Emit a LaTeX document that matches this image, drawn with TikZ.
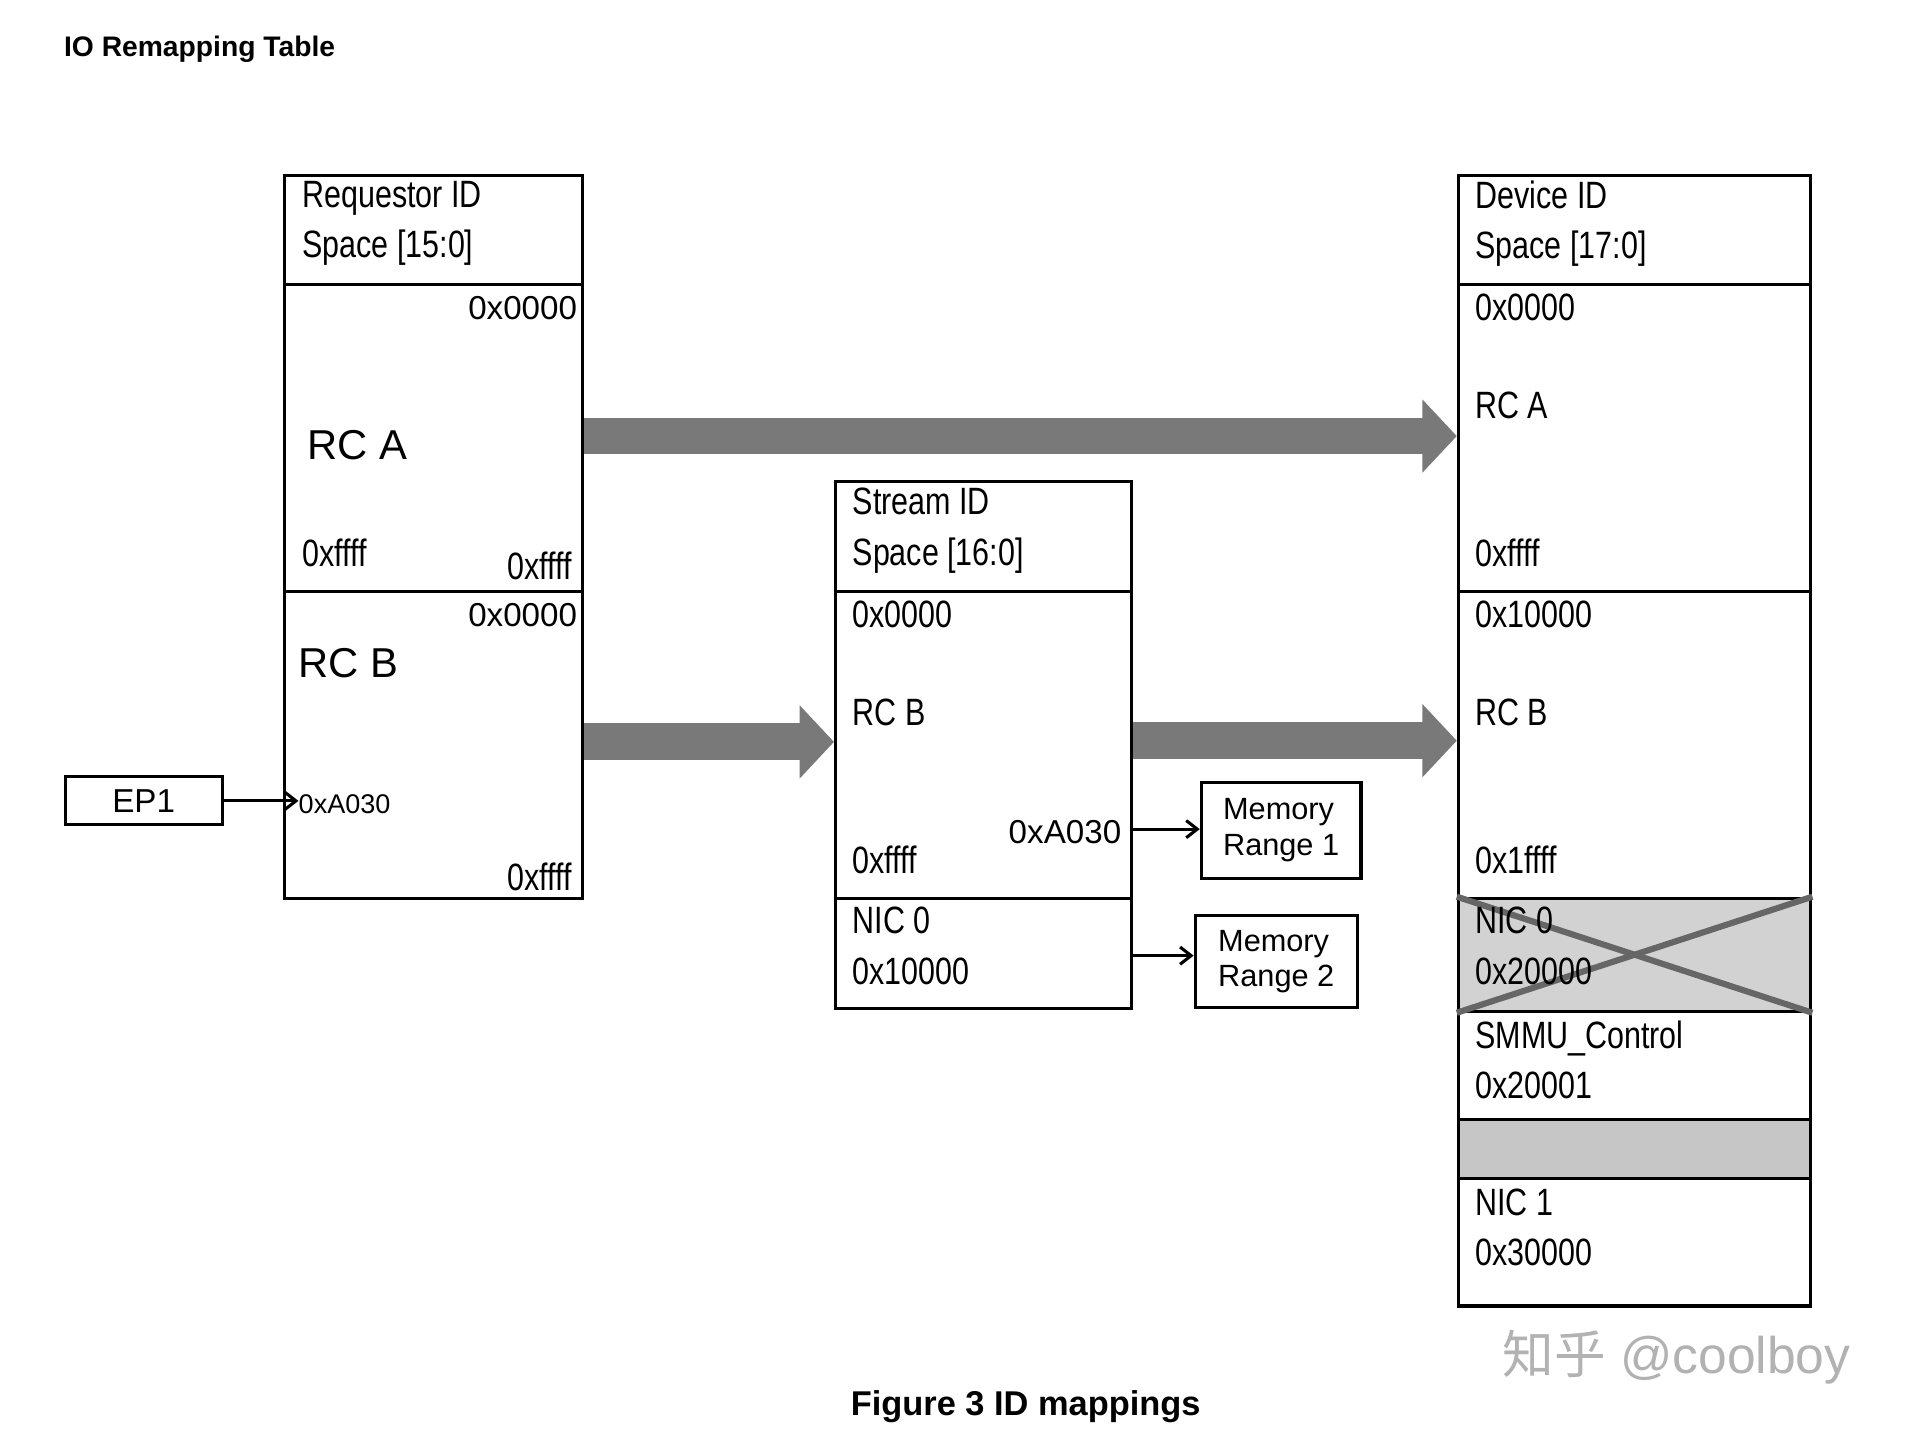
\documentclass[tikz,border=0pt]{standalone}
\usepackage{fontspec}
\setmainfont{Liberation Sans}
\newfontfamily\narrowf{Liberation Sans}[FakeStretch=0.8]
\newfontfamily\cjk{Noto Sans CJK SC}
\usetikzlibrary{arrows.meta}
\tikzset{
  cell/.style={draw,line width=2.5pt,anchor=north west,inner sep=0pt},
  lbl/.style={font=\fontsize{31}{41}\selectfont\narrowf,anchor=west,inner sep=0pt,align=left},
  lbr/.style={lbl,anchor=east},
  txt/.style={font=\fontsize{27}{33}\selectfont,anchor=west,inner sep=0pt,align=left},
  big/.style={line width=30pt,draw=gray!95!black,-{Triangle[length=28pt,width=58pt]}},
  small/.style={line width=2.5pt,-{Straight Barb[length=9pt,width=14pt]}}
}
\begin{document}
\begin{tikzpicture}[x=1pt,y=-1pt]
\useasboundingbox (0,0) rectangle (1568,1176);
% titles
\node[anchor=west,inner sep=0pt,font=\fontsize{23}{26}\selectfont\bfseries] at (52,40) {IO Remapping Table};
\node[inner sep=0pt,font=\fontsize{28}{32}\selectfont\bfseries] at (835,1145) {Figure 3 ID mappings};
\node[inner sep=0pt,text=gray!60,font=\fontsize{42}{46}\selectfont] at (1365,1105) {{\cjk 知乎} @coolboy};

% requestor ID space
\node[cell,minimum width=243pt,minimum height=88pt] (rqh) at (230,142) {};
\node[cell,minimum width=243pt,minimum height=250pt] (rqa) at (230,230) {};
\node[cell,minimum width=243pt,minimum height=250pt] (rqb) at (230,480) {};
\node[lbl] at (246,182) {Requestor ID\\Space [15:0]};
\node[txt,anchor=east] at (470,251) {0x0000};
\node[txt,font=\fontsize{34}{40}\selectfont] at (250,362) {RC A};
\node[lbl] at (246,450) {0xffff};
\node[lbr] at (466,461) {0xffff};
\node[txt,anchor=east] at (470,501) {0x0000};
\node[txt,font=\fontsize{34}{40}\selectfont] at (243,540) {RC B};
\node[txt,font=\fontsize{22}{26}\selectfont] (aa) at (243,655) {0xA030};
\node[lbr] at (466,714) {0xffff};

% EP1
\node[draw,line width=2.5pt,minimum width=128pt,minimum height=39pt,inner sep=0pt,font=\fontsize{27}{30}\selectfont] (ep) at (117,652) {EP1};
\draw[small] (ep.east) -- (ep.east -| aa.west);

% stream ID space
\node[cell,minimum width=241pt,minimum height=89pt] (sth) at (679,391) {};
\node[cell,minimum width=241pt,minimum height=250pt] (stb) at (679,480) {};
\node[cell,minimum width=241pt,minimum height=90pt] (stn) at (679,730) {};
\node[lbl] at (694,432) {Stream ID\\Space [16:0]};
\node[lbl] at (694,500) {0x0000};
\node[lbl] at (694,580) {RC B};
\node[lbl] at (694,700) {0xffff};
\node[txt,anchor=east] (sa) at (913,677) {0xA030};
\node[lbl] at (694,770) {NIC 0\\0x10000};

% memory ranges
\node[draw,line width=2.5pt,minimum width=130pt,minimum height=78pt,inner sep=0pt,align=left,font=\fontsize{25}{29}\selectfont] (m1) at (1043,676) {Memory\\Range 1};
\node[draw,line width=2.5pt,minimum width=132pt,minimum height=75pt,inner sep=0pt,align=left,font=\fontsize{25}{29}\selectfont] (m2) at (1039,783) {Memory\\Range 2};
\coordinate (so) at (920,675);
\coordinate (sn) at (920,778);
\draw[small] (so) -- (so -| m1.west);
\draw[small] (sn) -- (sn -| m2.west);

% device ID space
\node[cell,minimum width=287pt,minimum height=88pt] (dvh) at (1186,142) {};
\node[cell,minimum width=287pt,minimum height=250pt] (dva) at (1186,230) {};
\node[cell,minimum width=287pt,minimum height=250pt] (dvb) at (1186,480) {};
\node[cell,minimum width=287pt,minimum height=92pt,fill=gray!35] (dvn) at (1186,730) {};
\node[cell,minimum width=287pt,minimum height=88pt] (dvs) at (1186,822) {};
\node[cell,minimum width=287pt,minimum height=48pt,fill=gray!45] (dvg) at (1186,910) {};
\node[cell,minimum width=287pt,minimum height=104pt] (dv1) at (1186,958) {};
\draw[line width=5pt,gray!80!black] (dvn.north west) -- (dvn.south east);
\draw[line width=5pt,gray!80!black] (dvn.south west) -- (dvn.north east);
\node[lbl] at (1201,182) {Device ID\\Space [17:0]};
\node[lbl] at (1201,250) {0x0000};
\node[lbl] at (1201,330) {RC A};
\node[lbl] at (1201,450) {0xffff};
\node[lbl] at (1201,500) {0x10000};
\node[lbl] at (1201,580) {RC B};
\node[lbl] at (1201,700) {0x1ffff};
\node[lbl] at (1201,770) {NIC 0\\0x20000};
\node[lbl] at (1201,863) {SMMU\_Control\\0x20001};
\node[lbl] at (1201,999) {NIC 1\\0x30000};

% mapping arrows
\draw[big] (rqa.east |- 0,355) -- (dva.west |- 0,355);
\draw[big] (rqb.east |- 0,604) -- (stb.west |- 0,604);
\draw[big] (stb.east |- 0,603) -- (dvb.west |- 0,603);
\end{tikzpicture}
\end{document}
